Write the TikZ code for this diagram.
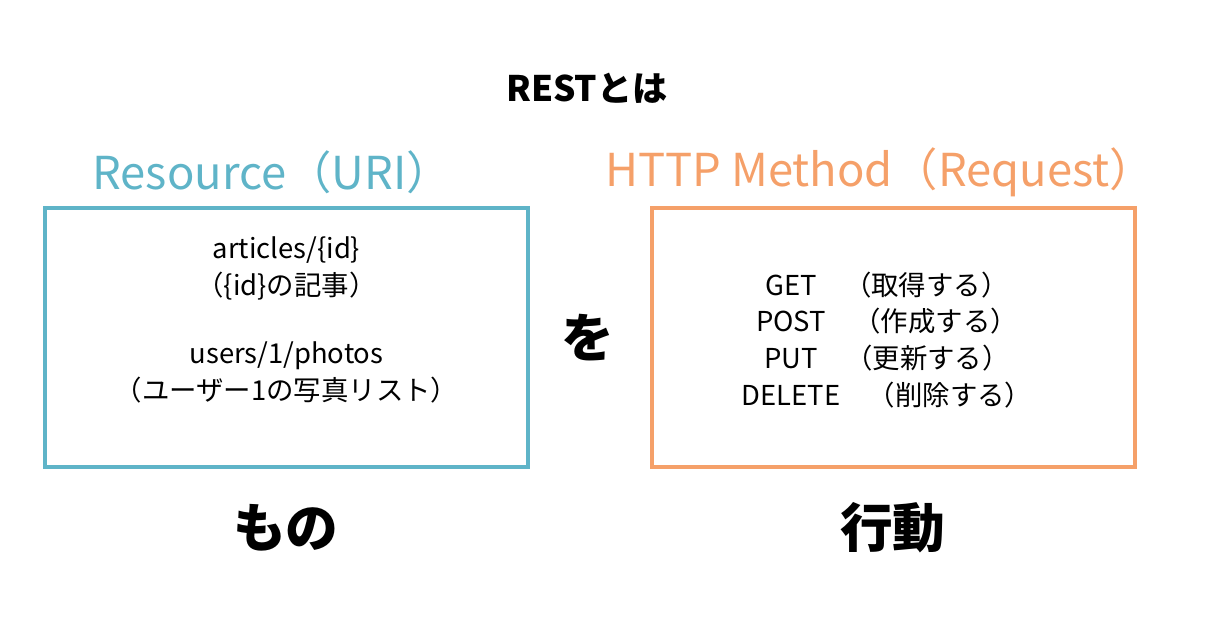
\documentclass[tikz,border=0pt]{standalone}
\usepackage{fontspec}
\setmainfont{Noto Sans CJK JP}
\usetikzlibrary{positioning}
\definecolor{resblue}{RGB}{95,180,200}
\definecolor{reqorange}{RGB}{245,160,105}
\tikzset{
  boxframe/.style={draw, line width=1.2pt, minimum width=4.83cm, minimum height=2.59cm},
  heading/.style={font=\fontsize{12.9}{16}\selectfont},
  bodytext/.style={font=\fontsize{7.8}{10.5}\selectfont, align=center},
  bigword/.style={font=\fontsize{15}{18}\selectfont\bfseries}
}
\begin{document}
\begin{tikzpicture}
    \useasboundingbox (0,0) rectangle (12.08,-6.24);
    % Title
    \node[font=\fontsize{10}{12}\selectfont\bfseries] (title) at (5.87,-0.88) {RESTとは};

    % Resource side
    \node[boxframe, draw=resblue] (resbox) at (2.865,-3.375) {};
    \node[heading, text=resblue] (reshead) at (2.72,-1.72) {Resource（URI）};
    \node[bodytext] (restext) at (2.865,-3.2) {articles/\{id\}\\（\{id\}の記事）\\[9pt]users/1/photos\\（ユーザー1の写真リスト）};
    \node[bigword] (mono) at (2.86,-5.28) {もの};

    % connecting word
    \node[bigword] (wo) at (5.88,-3.38) {を};

    % HTTP Method side
    \node[boxframe, draw=reqorange] (reqbox) at (8.935,-3.375) {};
    \node[heading, text=reqorange] (reqhead) at (8.8,-1.72) {HTTP Method（Request）};
    \node[bodytext] (reqtext) at (8.87,-3.4) {GET\quad（取得する）\\POST\quad（作成する）\\PUT\quad（更新する）\\DELETE\quad（削除する）};
    \node[bigword] (koudou) at (8.93,-5.28) {行動};
\end{tikzpicture}
\end{document}
